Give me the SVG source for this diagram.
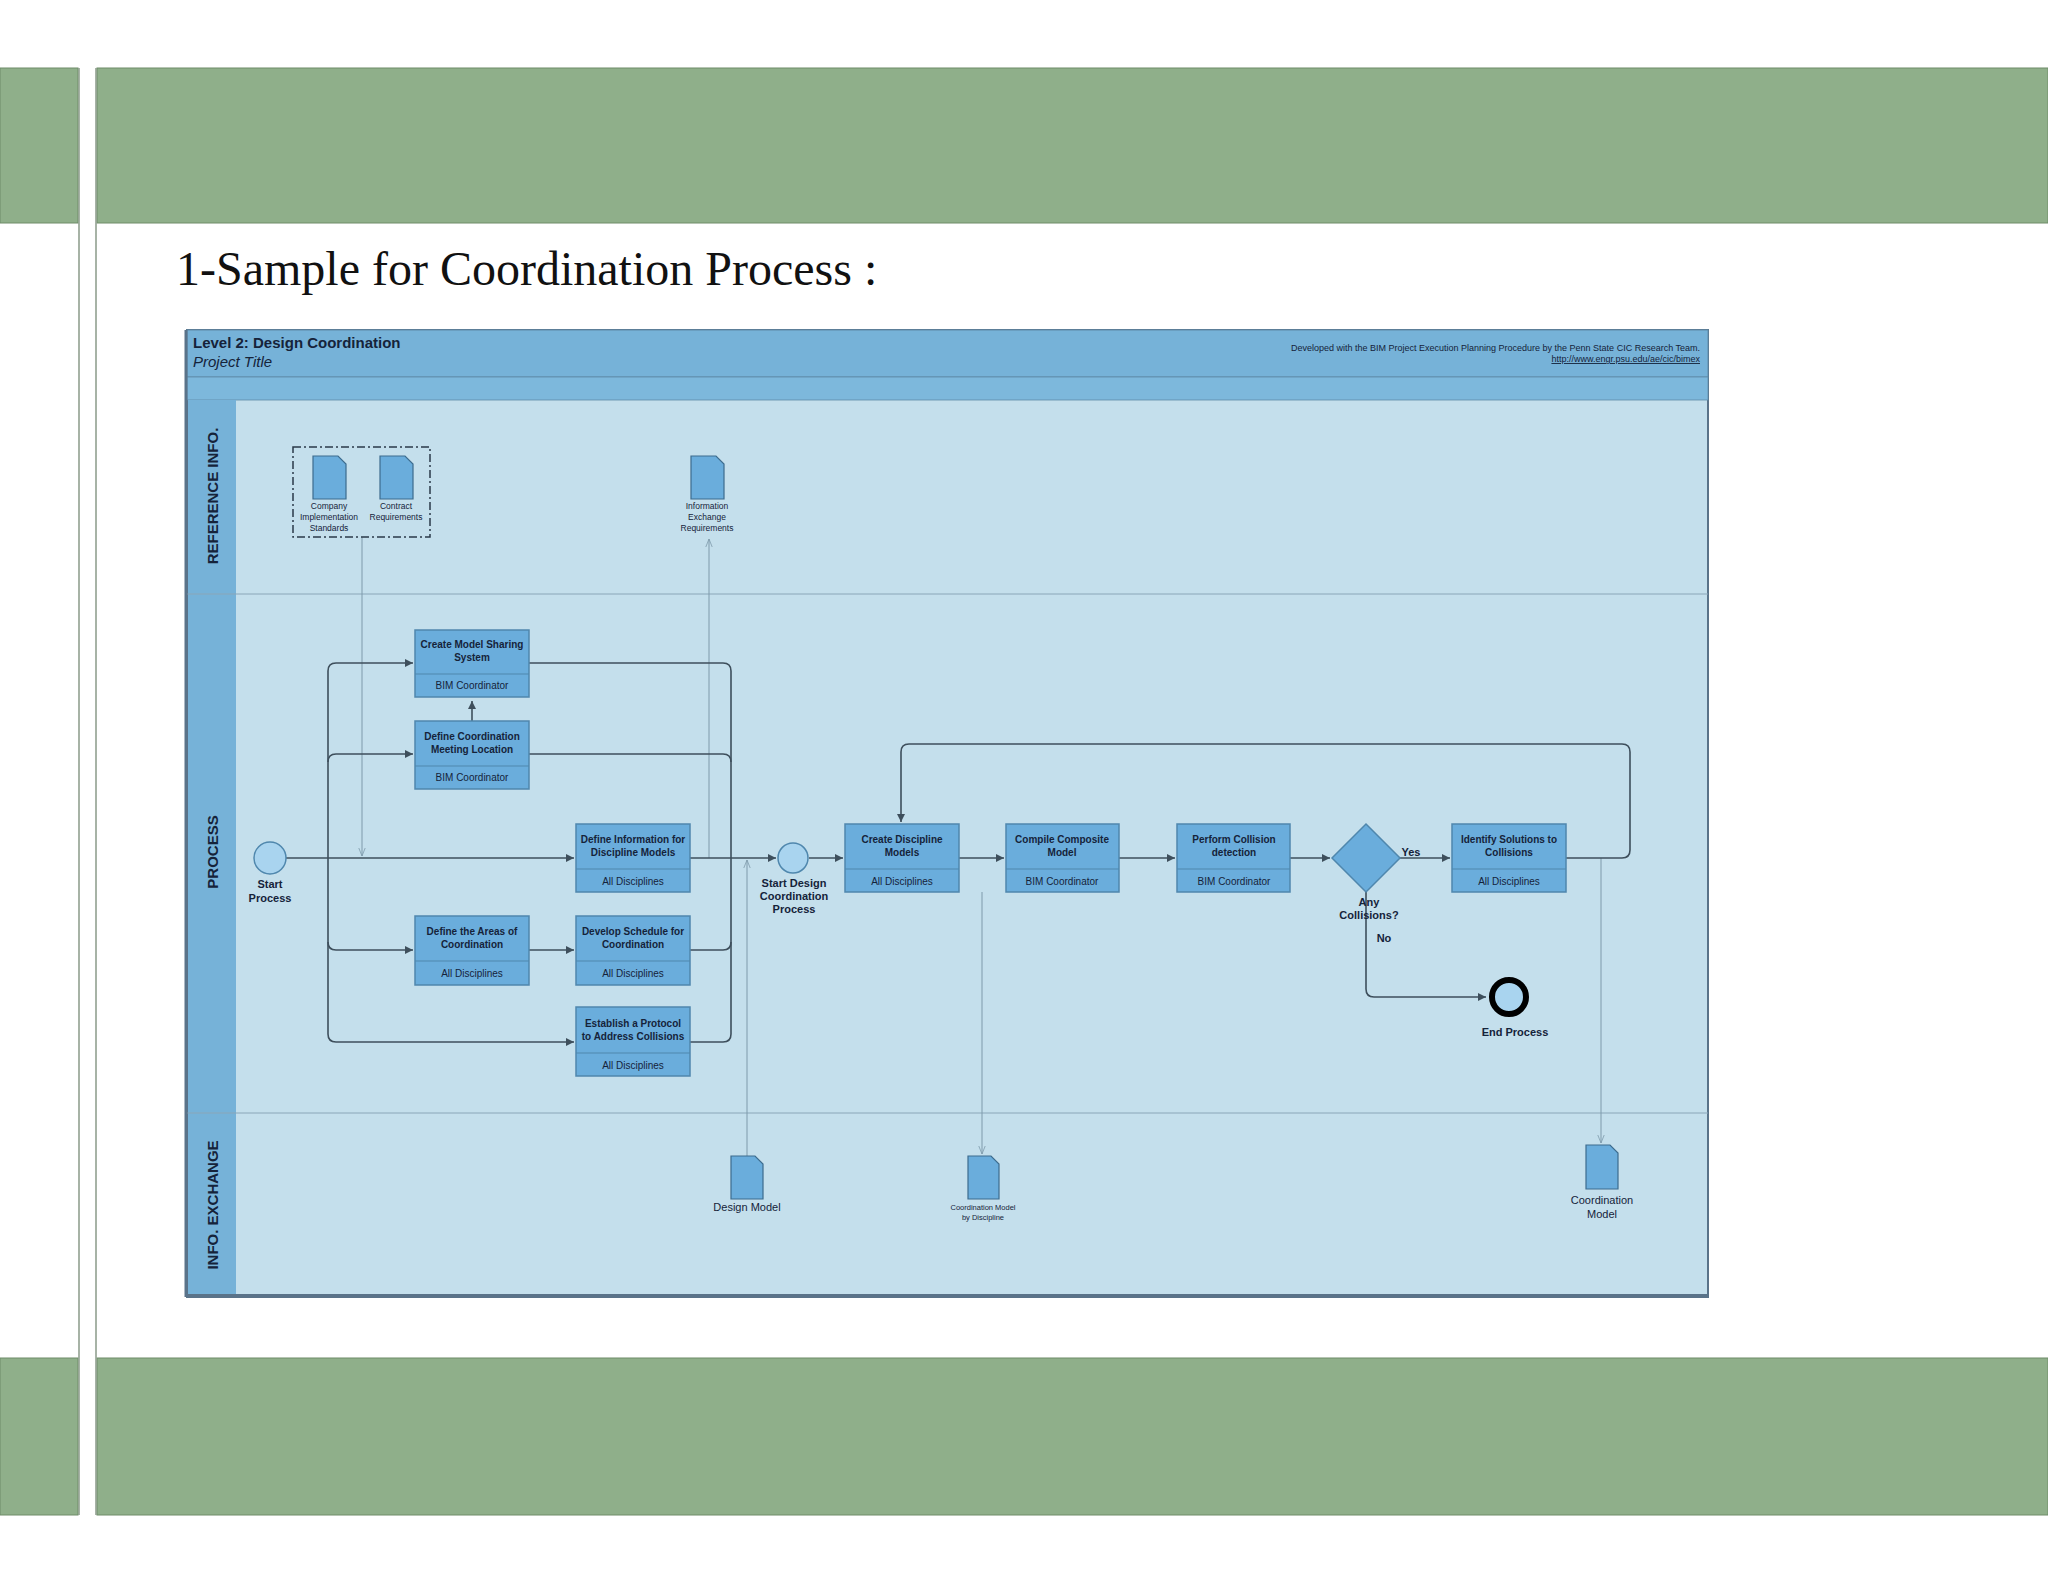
<svg xmlns="http://www.w3.org/2000/svg" width="2048" height="1582" viewBox="0 0 2048 1582">
<defs>
<style>
.t{font-family:"Liberation Sans",Arial,sans-serif;fill:#15233a}
.b{font-weight:bold}
.box{fill:#6aaddc;stroke:#4f87ad;stroke-width:1.5}
.div{stroke:#4f87ad;stroke-width:1}
.doc{fill:#6aaddc;stroke:#3d6c8e;stroke-width:1.2}
.ln{fill:none;stroke:#3e4f5c;stroke-width:1.6}
.th{fill:none;stroke:#7e9aab;stroke-width:1}
.bt{font-size:10px;font-weight:bold;text-anchor:middle}
.rt{font-size:10px;text-anchor:middle}
</style>
<marker id="a" viewBox="0 0 10 10" refX="10" refY="5" markerWidth="8" markerHeight="8" orient="auto-start-reverse" markerUnits="userSpaceOnUse"><path d="M0,0L10,5L0,10z" fill="#3e4f5c"/></marker>
<marker id="o" viewBox="0 0 10 10" refX="10" refY="5" markerWidth="8" markerHeight="8" orient="auto" markerUnits="userSpaceOnUse"><path d="M0,1L10,5L0,9" fill="none" stroke="#7e9aab"/></marker>
</defs>
<rect width="2048" height="1582" fill="#ffffff"/>
<g id="slide">
<rect x="0" y="68" width="78" height="155" fill="#8faf8a" stroke="#6e8c69"/>
<rect x="97" y="68" width="1951" height="155" fill="#8faf8a" stroke="#6e8c69"/>
<rect x="0" y="1358" width="78" height="157" fill="#8faf8a" stroke="#6e8c69"/>
<rect x="97" y="1358" width="1951" height="157" fill="#8faf8a" stroke="#6e8c69"/>
<line x1="79" y1="68" x2="79" y2="1515" stroke="#8a9a88" stroke-width="1.5"/>
<line x1="96" y1="68" x2="96" y2="1515" stroke="#8a9a88" stroke-width="1.5"/>
<text x="176" y="285" font-family="'Liberation Serif',Georgia,serif" font-size="48" fill="#111">1-Sample for Coordination Process :</text>
</g>
<g id="frame">
<rect x="187" y="330" width="1521" height="967" fill="#c4dfec" stroke="#5a7389" stroke-width="2"/>
<rect x="187" y="330" width="1521" height="47" fill="#76b2d8" stroke="#5e8aa8"/>
<rect x="187" y="377" width="1521" height="23" fill="#7db8dc" stroke="#5e8aa8" stroke-width="0.8"/>
<rect x="188" y="400" width="48" height="896" fill="#76b2d8"/>
<line x1="187" y1="594" x2="1708" y2="594" stroke="#8aa6b8"/>
<line x1="187" y1="1113" x2="1708" y2="1113" stroke="#8aa6b8"/>
<line x1="187" y1="1296" x2="1708" y2="1296" stroke="#5a7389" stroke-width="4"/>
<line x1="186" y1="330" x2="186" y2="1297" stroke="#5a7389" stroke-width="3"/>
<text class="t b" x="193" y="348" font-size="15">Level 2: Design Coordination</text>
<text class="t" x="193" y="367" font-size="15" font-style="italic">Project Title</text>
<text class="t" x="1700" y="351" font-size="9" text-anchor="end">Developed with the BIM Project Execution Planning Procedure by the Penn State CIC Research Team.</text>
<text class="t" x="1700" y="362" font-size="9" text-anchor="end" text-decoration="underline">http://www.engr.psu.edu/ae/cic/bimex</text>
<text class="t b" font-size="15" text-anchor="middle" transform="translate(218,496) rotate(-90)">REFERENCE INFO.</text>
<text class="t b" font-size="15" text-anchor="middle" transform="translate(218,852) rotate(-90)">PROCESS</text>
<text class="t b" font-size="15" text-anchor="middle" transform="translate(218,1205) rotate(-90)">INFO. EXCHANGE</text>
</g>
<g id="connectors">
<path class="th" d="M362,537V856" marker-end="url(#o)"/>
<path class="th" d="M709,858V539" marker-end="url(#o)"/>
<path class="th" d="M747,1156V860" marker-end="url(#o)"/>
<path class="th" d="M982,892V1154" marker-end="url(#o)"/>
<path class="th" d="M1601,858V1143" marker-end="url(#o)"/>
<path class="ln" d="M286,858H574" marker-end="url(#a)"/>
<path class="ln" d="M328,858V671Q328,663 336,663H413" marker-end="url(#a)"/>
<path class="ln" d="M328,762Q328,754 336,754H413" marker-end="url(#a)"/>
<path class="ln" d="M328,858V1034Q328,1042 336,1042H574" marker-end="url(#a)"/>
<path class="ln" d="M328,942Q328,950 336,950H413" marker-end="url(#a)"/>
<path class="ln" d="M529,950H574" marker-end="url(#a)"/>
<path class="ln" d="M472,721V701" marker-end="url(#a)"/>
<path class="ln" d="M529,663H723Q731,663 731,671V1034Q731,1042 723,1042H690"/>
<path class="ln" d="M529,754H723Q731,754 731,762"/>
<path class="ln" d="M690,950H723Q731,950 731,942"/>
<path class="ln" d="M690,858H776" marker-end="url(#a)"/>
<path class="ln" d="M809,858H843" marker-end="url(#a)"/>
<path class="ln" d="M959,858H1004" marker-end="url(#a)"/>
<path class="ln" d="M1119,858H1175" marker-end="url(#a)"/>
<path class="ln" d="M1290,858H1330" marker-end="url(#a)"/>
<path class="ln" d="M1400,858H1450" marker-end="url(#a)"/>
<path class="ln" d="M1566,858H1622Q1630,858 1630,850V752Q1630,744 1622,744H909Q901,744 901,752V822" marker-end="url(#a)"/>
<path class="ln" d="M1366,892V989Q1366,997 1374,997H1486" marker-end="url(#a)"/>
</g>
<g id="ref-docs">
<rect x="293" y="447" width="137" height="90" fill="none" stroke="#2a3a48" stroke-width="1.5" stroke-dasharray="8,3,2,3"/>
<path class="doc" d="M313,456H338L346,464V499H313Z"/>
<path class="doc" d="M380,456H405L413,464V499H380Z"/>
<path class="doc" d="M691,456H716L724,464V499H691Z"/>
<text class="t" font-size="8.5" text-anchor="middle"><tspan x="329" y="509">Company</tspan><tspan x="329" y="520">Implementation</tspan><tspan x="329" y="531">Standards</tspan></text>
<text class="t" font-size="8.5" text-anchor="middle"><tspan x="396" y="509">Contract</tspan><tspan x="396" y="520">Requirements</tspan></text>
<text class="t" font-size="8.5" text-anchor="middle"><tspan x="707" y="509">Information</tspan><tspan x="707" y="520">Exchange</tspan><tspan x="707" y="531">Requirements</tspan></text>
</g>
<g id="start"><circle cx="270" cy="858" r="16" fill="#a9d4ef" stroke="#4f87ad" stroke-width="1.5"/><text class="t b" font-size="11" text-anchor="middle"><tspan x="270" y="888">Start</tspan><tspan x="270" y="902">Process</tspan></text></g>
<g id="n1"><rect class="box" x="415" y="630" width="114" height="67"/><line class="div" x1="415" y1="674" x2="529" y2="674"/><text class="t bt"><tspan x="472" y="648">Create Model Sharing</tspan><tspan x="472" y="661">System</tspan></text><text class="t rt" x="472" y="689">BIM Coordinator</text></g>
<g id="n2"><rect class="box" x="415" y="721" width="114" height="68"/><line class="div" x1="415" y1="766" x2="529" y2="766"/><text class="t bt"><tspan x="472" y="740">Define Coordination</tspan><tspan x="472" y="753">Meeting Location</tspan></text><text class="t rt" x="472" y="781">BIM Coordinator</text></g>
<g id="n3"><rect class="box" x="576" y="824" width="114" height="68"/><line class="div" x1="576" y1="869" x2="690" y2="869"/><text class="t bt"><tspan x="633" y="843">Define Information for</tspan><tspan x="633" y="856">Discipline Models</tspan></text><text class="t rt" x="633" y="885">All Disciplines</text></g>
<g id="n4"><rect class="box" x="415" y="916" width="114" height="69"/><line class="div" x1="415" y1="961" x2="529" y2="961"/><text class="t bt"><tspan x="472" y="935">Define the Areas of</tspan><tspan x="472" y="948">Coordination</tspan></text><text class="t rt" x="472" y="977">All Disciplines</text></g>
<g id="n5"><rect class="box" x="576" y="916" width="114" height="69"/><line class="div" x1="576" y1="961" x2="690" y2="961"/><text class="t bt"><tspan x="633" y="935">Develop Schedule for</tspan><tspan x="633" y="948">Coordination</tspan></text><text class="t rt" x="633" y="977">All Disciplines</text></g>
<g id="n6"><rect class="box" x="576" y="1007" width="114" height="69"/><line class="div" x1="576" y1="1053" x2="690" y2="1053"/><text class="t bt"><tspan x="633" y="1027">Establish a Protocol</tspan><tspan x="633" y="1040">to Address Collisions</tspan></text><text class="t rt" x="633" y="1069">All Disciplines</text></g>
<g id="start2"><circle cx="793" cy="858" r="15" fill="#a9d4ef" stroke="#4f87ad" stroke-width="1.5"/><text class="t b" font-size="11" text-anchor="middle"><tspan x="794" y="887">Start Design</tspan><tspan x="794" y="900">Coordination</tspan><tspan x="794" y="913">Process</tspan></text></g>
<g id="n7"><rect class="box" x="845" y="824" width="114" height="68"/><line class="div" x1="845" y1="869" x2="959" y2="869"/><text class="t bt"><tspan x="902" y="843">Create Discipline</tspan><tspan x="902" y="856">Models</tspan></text><text class="t rt" x="902" y="885">All Disciplines</text></g>
<g id="n8"><rect class="box" x="1006" y="824" width="113" height="68"/><line class="div" x1="1006" y1="869" x2="1119" y2="869"/><text class="t bt"><tspan x="1062" y="843">Compile Composite</tspan><tspan x="1062" y="856">Model</tspan></text><text class="t rt" x="1062" y="885">BIM Coordinator</text></g>
<g id="n9"><rect class="box" x="1177" y="824" width="113" height="68"/><line class="div" x1="1177" y1="869" x2="1290" y2="869"/><text class="t bt"><tspan x="1234" y="843">Perform Collision</tspan><tspan x="1234" y="856">detection</tspan></text><text class="t rt" x="1234" y="885">BIM Coordinator</text></g>
<g id="gw"><path d="M1366,824L1400,858L1366,892L1332,858Z" fill="#6aaddc" stroke="#4f87ad" stroke-width="1.5"/><text class="t b" font-size="11" text-anchor="middle"><tspan x="1369" y="906">Any</tspan><tspan x="1369" y="919">Collisions?</tspan></text><text class="t b" font-size="11" x="1411" y="856" text-anchor="middle">Yes</text><text class="t b" font-size="11" x="1384" y="942" text-anchor="middle">No</text></g>
<g id="n10"><rect class="box" x="1452" y="824" width="114" height="68"/><line class="div" x1="1452" y1="869" x2="1566" y2="869"/><text class="t bt"><tspan x="1509" y="843">Identify Solutions to</tspan><tspan x="1509" y="856">Collisions</tspan></text><text class="t rt" x="1509" y="885">All Disciplines</text></g>
<g id="end"><circle cx="1509" cy="997" r="17" fill="#a9d4ef" stroke="#000" stroke-width="6"/><text class="t b" font-size="11" x="1515" y="1036" text-anchor="middle">End Process</text></g>
<g id="ie-docs">
<path class="doc" d="M731,1156H755L763,1164V1199H731Z"/>
<path class="doc" d="M968,1156H991L999,1164V1199H968Z"/>
<path class="doc" d="M1586,1145H1610L1618,1153V1189H1586Z"/>
<text class="t" font-size="11" x="747" y="1211" text-anchor="middle">Design Model</text>
<text class="t" font-size="7.5" text-anchor="middle"><tspan x="983" y="1210">Coordination Model</tspan><tspan x="983" y="1220">by Discipline</tspan></text>
<text class="t" font-size="11" text-anchor="middle"><tspan x="1602" y="1204">Coordination</tspan><tspan x="1602" y="1218">Model</tspan></text>
</g>
</svg>
